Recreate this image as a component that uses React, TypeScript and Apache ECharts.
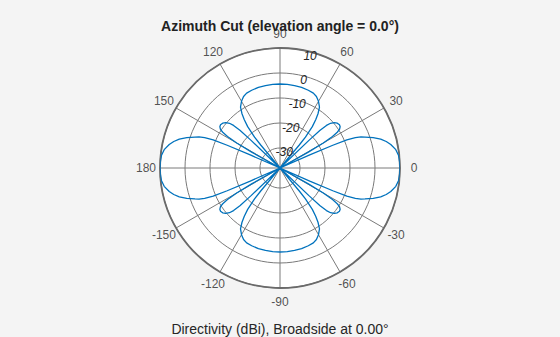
import React, { useEffect, useRef } from "react";
import * as echarts from "echarts";

// Azimuth angle (deg, 0 = right, counter-clockwise) and directivity (dBi).
// -38 is the plot floor (drawn at the centre).
const azimuthDeg = [
  0, 3, 6, 9, 12, 14, 16, 18, 20, 21, 22, 22.8, 23.3, 23.7, 24.2,
  28.8, 29.3, 30, 31, 32, 33, 34.5, 36, 38, 40, 41.5, 42.5, 43.2, 43.7, 44.2,
  49.5, 50, 50.5, 52, 53.5, 55, 57, 60, 63, 66, 70, 75, 80, 85, 90,
  95, 100, 105, 110, 114, 117, 120, 123, 125, 126.5, 128, 129.5, 130, 130.5,
  135.8, 136.3, 136.8, 137.5, 138.5, 140, 142, 144, 145.5, 147, 148, 149, 150, 150.7, 151.2,
  155.8, 156.3, 156.7, 157.2, 158, 159, 160, 162, 164, 166, 168, 171, 174, 177, 180,
  183, 186, 189, 192, 194, 196, 198, 200, 201, 202, 202.8, 203.3, 203.7, 204.2,
  208.8, 209.3, 210, 211, 212, 213, 214.5, 216, 218, 220, 221.5, 222.5, 223.2, 223.7, 224.2,
  229.5, 230, 230.5, 232, 233.5, 235, 237, 240, 243, 246, 250, 255, 260, 265, 270,
  275, 280, 285, 290, 294, 297, 300, 303, 305, 306.5, 308, 309.5, 310, 310.5,
  315.8, 316.3, 316.8, 317.5, 318.5, 320, 322, 324, 325.5, 327, 328, 329, 330, 330.7, 331.2,
  335.8, 336.3, 336.7, 337.2, 338, 339, 340, 342, 344, 346, 348, 351, 354, 357, 360,
];

const directivityDb = [
  10, 9.9, 9.7, 8.9, 7.3, 5.8, 3.9, 1.2, -1.8, -3.3, -5.5, -9, -15, -25, -38,
  -38, -25, -18, -13.5, -11, -9.6, -8.8, -8.6, -8.9, -9.7, -11, -12.8, -16, -22, -38,
  -38, -26, -22, -17, -14, -11.5, -9, -7.2, -5.9, -5.2, -4.9, -4.6, -4.5, -4.4, -4.4,
  -4.4, -4.5, -4.6, -4.9, -5.2, -5.9, -7.2, -9, -11.5, -14, -17, -22, -26, -38,
  -38, -22, -16, -12.8, -11, -9.7, -8.9, -8.6, -8.8, -9.6, -11, -13.5, -18, -25, -38,
  -38, -25, -15, -9, -5.5, -3.3, -1.8, 1.2, 3.9, 5.8, 7.3, 8.9, 9.7, 9.9, 10,
  9.9, 9.7, 8.9, 7.3, 5.8, 3.9, 1.2, -1.8, -3.3, -5.5, -9, -15, -25, -38,
  -38, -25, -18, -13.5, -11, -9.6, -8.8, -8.6, -8.9, -9.7, -11, -12.8, -16, -22, -38,
  -38, -26, -22, -17, -14, -11.5, -9, -7.2, -5.9, -5.2, -4.9, -4.6, -4.5, -4.4, -4.4,
  -4.4, -4.5, -4.6, -4.9, -5.2, -5.9, -7.2, -9, -11.5, -14, -17, -22, -26, -38,
  -38, -22, -16, -12.8, -11, -9.7, -8.9, -8.6, -8.8, -9.6, -11, -13.5, -18, -25, -38,
  -38, -25, -15, -9, -5.5, -3.3, -1.8, 1.2, 3.9, 5.8, 7.3, 8.9, 9.7, 9.9, 10,
];

const angleTickValues = [0, 30, 60, 90, 120, 150, 180, 210, 240, 270, 300, 330];
const angleTickLabels = ["0", "30", "60", "90", "120", "150", "180", "-150", "-120", "-90", "-60", "-30"];
const radialMin = -38;
const radialMax = 10;
const radialTickValues = [-30, -20, -10, 0, 10];
const radialTickLabels = ["-30", "-20", "-10", "0", "10"];

const titleText = "Azimuth Cut (elevation angle = 0.0°)";
const footerText = "Directivity (dBi), Broadside at 0.00°";

const FONT = "'Liberation Sans', Arial, Helvetica, sans-serif";

export default function App() {
  const ref = useRef<HTMLDivElement>(null);

  useEffect(() => {
    document.body.style.margin = "0";
    if (!ref.current) return;
    const chart = echarts.init(ref.current, null, { renderer: "svg" });

    const gridColor = "#7a7a7a";
    const center = [280, 168];
    const labelCenter = [279, 171.5];
    const radius = 120;
    const angleLabelGap = 14;

    chart.setOption({
      animation: false,
      backgroundColor: "#f4f4f4",
      textStyle: { fontFamily: FONT },
      title: [
        {
          text: titleText,
          left: "center",
          top: 14,
          textStyle: { fontSize: 14, fontWeight: "bold", color: "#222", fontFamily: FONT },
        },
        {
          text: footerText,
          left: "center",
          top: 317,
          textStyle: { fontSize: 14, fontWeight: "normal", color: "#262626", fontFamily: FONT },
        },
      ],
      polar: [
        { center, radius },
        { center: labelCenter, radius },
        { center, radius },
      ],
      angleAxis: [
        {
          polarIndex: 0,
          type: "value",
          min: 0,
          max: 360,
          interval: 30,
          startAngle: 0,
          clockwise: false,
          z: 3,
          axisLine: { show: true, lineStyle: { color: "#6a6a6a", width: 1.8 } },
          axisTick: { show: false },
          axisLabel: { show: false },
          splitLine: { show: true, lineStyle: { color: gridColor, width: 1 } },
        },
        {
          polarIndex: 1,
          type: "value",
          min: 0,
          max: 360,
          startAngle: 75,
          clockwise: false,
          show: false,
        },
        {
          polarIndex: 2,
          type: "value",
          min: 0,
          max: 360,
          interval: 30,
          startAngle: 0,
          clockwise: false,
          z: 0,
          axisLine: { show: false },
          axisTick: { show: false },
          axisLabel: { show: false },
          splitLine: { show: false },
          splitArea: { show: true, areaStyle: { color: ["#ffffff", "#ffffff"] } },
        },
      ],
      radiusAxis: [
        {
          polarIndex: 0,
          type: "value",
          min: radialMin,
          max: radialMax,
          splitNumber: 5,
          z: 3,
          axisLine: { show: false },
          axisTick: { show: false },
          axisLabel: { show: false },
          splitLine: { show: true, lineStyle: { color: gridColor, width: 1 } },
        },
        {
          polarIndex: 1,
          type: "value",
          min: radialMin,
          max: radialMax,
          splitNumber: 5,
          z: 10,
          axisLine: { show: false },
          axisTick: { show: false },
          splitLine: { show: false },
          axisLabel: {
            show: true,
            margin: 0,
            align: "center",
            verticalAlign: "middle",
            fontSize: 12,
            fontStyle: "italic",
            color: "#262626",
            fontFamily: FONT,
            formatter: (v: number) => {
              const i = radialTickValues.indexOf(v);
              return i >= 0 ? radialTickLabels[i] : "";
            },
          },
        },
        {
          polarIndex: 2,
          type: "value",
          min: radialMin,
          max: radialMax,
          show: false,
        },
      ],
      series: [
        {
          type: "line",
          coordinateSystem: "polar",
          polarIndex: 0,
          showSymbol: false,
          symbol: "none",
          smooth: false,
          lineStyle: { color: "#0072BD", width: 1.3 },
          data: azimuthDeg.map((a, i) => [Math.max(directivityDb[i], radialMin), a]),
          z: 5,
        },
        {
          // angle tick labels, centred just outside the outer ring
          type: "scatter",
          coordinateSystem: "polar",
          polarIndex: 0,
          symbolSize: 1,
          itemStyle: { color: "rgba(0,0,0,0)" },
          silent: true,
          z: 6,
          data: angleTickValues.map((a, i) => {
            const rad = (a * Math.PI) / 180;
            return {
              value: [radialMax, a],
              label: {
                show: true,
                position: "inside",
                offset: [angleLabelGap * Math.cos(rad), -angleLabelGap * Math.sin(rad)],
                formatter: () => angleTickLabels[i],
                fontSize: 12,
                color: "#262626",
                fontFamily: FONT,
              },
            };
          }),
        },
      ],
    });

    return () => chart.dispose();
  }, []);

  return <div ref={ref} style={{ width: 560, height: 337 }} />;
}
